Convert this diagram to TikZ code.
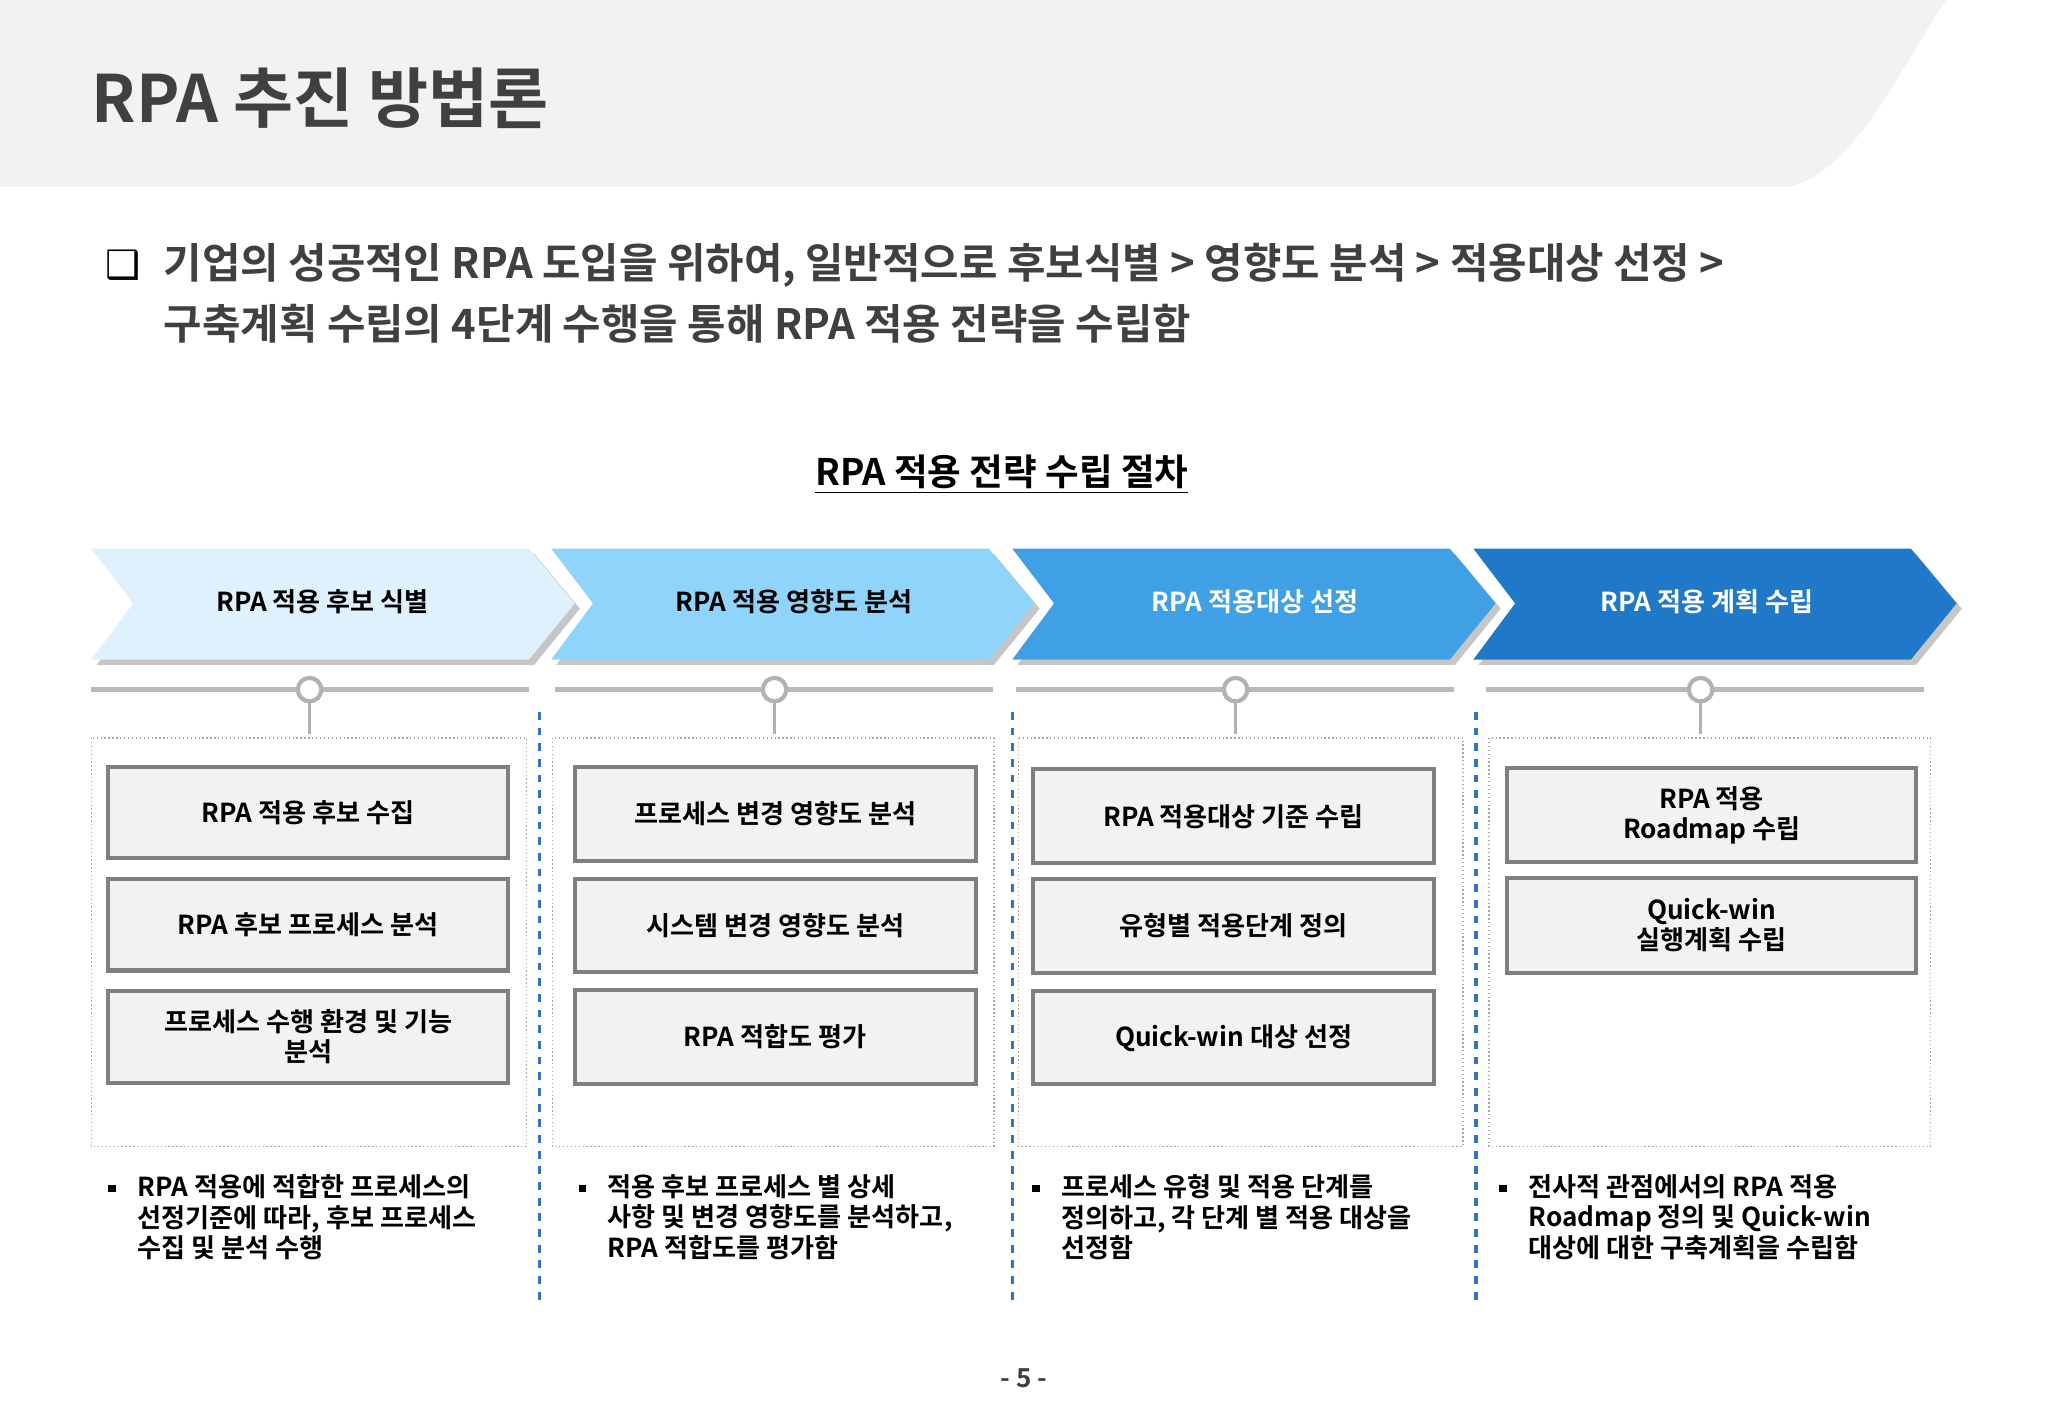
\documentclass[tikz,border=0pt]{standalone}
\usepackage{fontspec}
\setmainfont{Noto Sans CJK KR}
\newfontfamily\kb{Noto Sans CJK KR Bold}
\usetikzlibrary{calc}
\definecolor{band}{HTML}{F2F2F2}
\definecolor{tgrey}{HTML}{404040}
\definecolor{cA}{HTML}{DFF1FD}
\definecolor{cB}{HTML}{8FD4FB}
\definecolor{cC}{HTML}{3FA0E6}
\definecolor{cD}{HTML}{1F78C8}
\definecolor{bord}{HTML}{7F7F7F}
\definecolor{dashb}{HTML}{2E75C8}
\tikzset{
 x=0.5pt,y=-0.5pt,
 inbox/.style={draw=bord,line width=1.6pt,fill=band,inner sep=0pt,align=center,font=\kb\fontsize{10}{11.5}\selectfont,text=black},
 dotbox/.style={draw=gray!70,densely dotted,line width=0.5pt},
 bul/.style={anchor=north west,align=left,font=\kb\fontsize{10}{11.6}\selectfont,text=black,inner sep=0pt},
 chtext/.style={font=\kb\fontsize{10}{12}\selectfont},
}
\begin{document}
\begin{tikzpicture}
\useasboundingbox (0,0) rectangle (1568,1085);
\fill[white] (0,0) rectangle (1568,1085);
\fill[band] (0,0) -- (1490,0) .. controls (1450,60) and (1420,130) .. (1370,143) -- (0,143) -- cycle;
\node[anchor=west,text=tgrey,font=\kb\fontsize{25}{28}\selectfont,inner sep=0pt] (title) at (70,75) {RPA 추진 방법론};
\node[anchor=west,font=\fontsize{15}{18}\selectfont,inner sep=0pt] (box) at (80,203) {\fontspec{DejaVu Sans}❑};
\node[anchor=west,text=tgrey,font=\kb\fontsize{16}{23}\selectfont,inner sep=0pt] (l1) at (125,203) {기업의 성공적인 RPA 도입을 위하여, 일반적으로 후보식별 > 영향도 분석 > 적용대상 선정 >};
\node[anchor=west,text=tgrey,font=\kb\fontsize{16}{23}\selectfont,inner sep=0pt] (l2) at (125,248) {구축계획 수립의 4단계 수행을 통해 RPA 적용 전략을 수립함};
\node[font=\kb\fontsize{14}{16}\selectfont,inner sep=0pt] (sub) at (767,363) {\underline{RPA 적용 전략 수립 절차}};
% chevrons
\foreach \x/\c/\t/\tc/\cx [count=\i] in {70/cA/RPA 적용 후보 식별/black/247, 422/cB/RPA 적용 영향도 분석/black/608, 775/cC/RPA 적용대상 선정/white/961, 1128/cD/RPA 적용 계획 수립/white/1307}{
  \fill[gray!45] (\x+4,424) -- (\x+339,424) -- (\x+374,466) -- (\x+339,509) -- (\x+4,509) -- (\x+36,466) -- cycle;
  \fill[\c] (\x,420) -- (\x+335,420) -- (\x+370,462) -- (\x+335,505) -- (\x,505) -- (\x+32,462) -- cycle;
  \node[chtext,text=\tc] (ch\i) at (\cx,461) {\t};
}
% timeline
\foreach \a/\b/\m [count=\i] in {70/405/237, 425/760/593, 778/1113/946, 1138/1473/1302}{
  \draw[gray!55,line width=2pt] (\a,528) -- (\b,528);
  \draw[gray!60,line width=1.2pt] (\m,538) -- (\m,562);
  \node[circle,draw=gray!60,fill=white,line width=1.6pt,minimum size=9pt,inner sep=0pt] (c\i) at (\m,528) {};
}
\draw[dotbox] (70,565) rectangle (403,878);
\draw[dotbox] (423,565) rectangle (761,878);
\draw[dotbox] (780,565) rectangle (1120,878);
\draw[dotbox] (1140,565) rectangle (1478,878);
\foreach \x in {413,775,1130}{ \draw[dashb,dashed,line width=1.2pt] (\x,545) -- (\x,995); }
% inner boxes
\newcommand\ibox[6]{\node[inbox,minimum width={(#3-#2)*0.5pt},minimum height={(#5-#4)*0.5pt}] (#1) at ({(#2+#3)/2},{(#4+#5)/2}) {#6};}
\ibox{a1}{83}{389}{587}{657}{RPA 적용 후보 수집}
\ibox{a2}{83}{389}{673}{743}{RPA 후보 프로세스 분석}
\ibox{a3}{83}{389}{759}{829}{프로세스 수행 환경 및 기능\\분석}
\ibox{b1}{440}{747}{587}{659}{프로세스 변경 영향도 분석}
\ibox{b2}{440}{747}{673}{744}{시스템 변경 영향도 분석}
\ibox{b3}{440}{747}{758}{830}{RPA 적합도 평가}
\ibox{d1}{791}{1098}{589}{661}{RPA 적용대상 기준 수립}
\ibox{d2}{791}{1098}{673}{745}{유형별 적용단계 정의}
\ibox{d3}{791}{1098}{759}{830}{Quick-win 대상 선정}
\ibox{e1}{1154}{1467}{588}{660}{RPA 적용\\Roadmap 수립}
\ibox{e2}{1154}{1467}{672}{745}{Quick-win\\실행계획 수립}
% bullets
\foreach \x/\t [count=\i] in {83/{RPA 적용에 적합한 프로세스의\\선정기준에 따라, 후보 프로세스\\수집 및 분석 수행}, 443/{적용 후보 프로세스 별 상세\\사항 및 변경 영향도를 분석하고,\\RPA 적합도를 평가함}, 790/{프로세스 유형 및 적용 단계를\\정의하고, 각 단계 별 적용 대상을\\선정함}, 1148/{전사적 관점에서의 RPA 적용\\Roadmap 정의 및 Quick-win\\대상에 대한 구축계획을 수립함}}{
  \fill (\x,907) rectangle (\x+6,913);
  \node[bul] (t\i) at (\x+22,899) {\t};
}
\node[font=\kb\fontsize{10}{12}\selectfont,text=tgrey] (pg) at (784,1055) {- 5 -};
\end{tikzpicture}
\end{document}
